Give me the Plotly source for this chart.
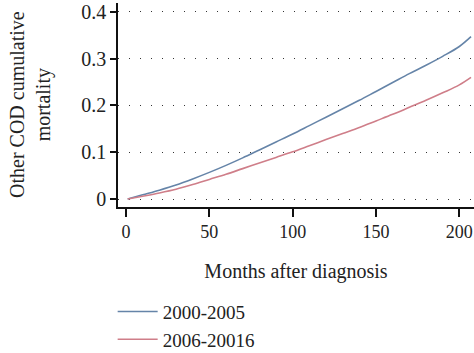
import plotly.graph_objects as go

months = [1, 10, 20, 30, 40, 50, 60, 70, 80, 90, 100, 110, 120, 130, 140, 150, 160, 170, 180, 190, 200, 207]
mort_2000_2005 = [0.0, 0.009, 0.019, 0.030, 0.043, 0.057, 0.072, 0.088, 0.105, 0.122, 0.139, 0.157, 0.175, 0.193, 0.211, 0.230, 0.249, 0.268, 0.286, 0.305, 0.326, 0.347]
mort_2006_20016 = [0.0, 0.006, 0.013, 0.021, 0.031, 0.042, 0.053, 0.065, 0.077, 0.089, 0.101, 0.114, 0.127, 0.140, 0.153, 0.167, 0.181, 0.196, 0.211, 0.227, 0.244, 0.260]
series_names = ["2000-2005", "2006-20016"]
x_ticks = [0, 50, 100, 150, 200]
y_ticks = [0, 0.1, 0.2, 0.3, 0.4]
y_tick_labels = ["0", "0.1", "0.2", "0.3", "0.4"]

font = "Liberation Serif"
fig = go.Figure()
fig.add_trace(go.Scatter(x=months, y=mort_2000_2005, mode="lines", name=series_names[0],
                         line=dict(color="#6584a8", width=1.6, shape="spline", smoothing=1)))
fig.add_trace(go.Scatter(x=months, y=mort_2006_20016, mode="lines", name=series_names[1],
                         line=dict(color="#cf7e89", width=1.6, shape="spline", smoothing=1)))

fig.update_layout(
    width=474, height=353,
    margin=dict(l=118, r=0, t=3, b=146, autoexpand=False),
    paper_bgcolor="white", plot_bgcolor="white",
    font=dict(family=font, size=19, color="#222"),
    showlegend=True,
    legend=dict(x=-0.015, y=-0.42, xanchor="left", yanchor="top", bgcolor="rgba(0,0,0,0)",
                font=dict(family=font, size=19, color="#222"), tracegroupgap=0,
                itemwidth=40),
    xaxis=dict(range=[-4.8, 208.8], tickvals=x_ticks, showgrid=False, zeroline=False,
               showline=True, linecolor="#111", linewidth=1.5,
               ticks="outside", ticklen=8, tickwidth=1.5, tickcolor="#111",
               tickfont=dict(family=font, size=18),
               title=dict(text="Months after diagnosis", standoff=23,
                          font=dict(family=font, size=20))),
    yaxis=dict(range=[-0.017, 0.419], tickvals=y_ticks, ticktext=y_tick_labels,
               showgrid=True, gridcolor="#333", gridwidth=1.3, griddash="1px,10px",
               zeroline=False, showline=True, linecolor="#111", linewidth=1.5,
               ticks="outside", ticklen=6, tickwidth=1.5, tickcolor="#111",
               tickfont=dict(family=font, size=20)),
)
fig.add_annotation(text="Other COD cumulative<br>mortality", xref="paper", yref="paper",
                   x=0, y=0.5, xanchor="center", yanchor="middle", xshift=-88,
                   textangle=-90, showarrow=False,
                   font=dict(family=font, size=20, color="#222"))
fig.write_html("out.html")
